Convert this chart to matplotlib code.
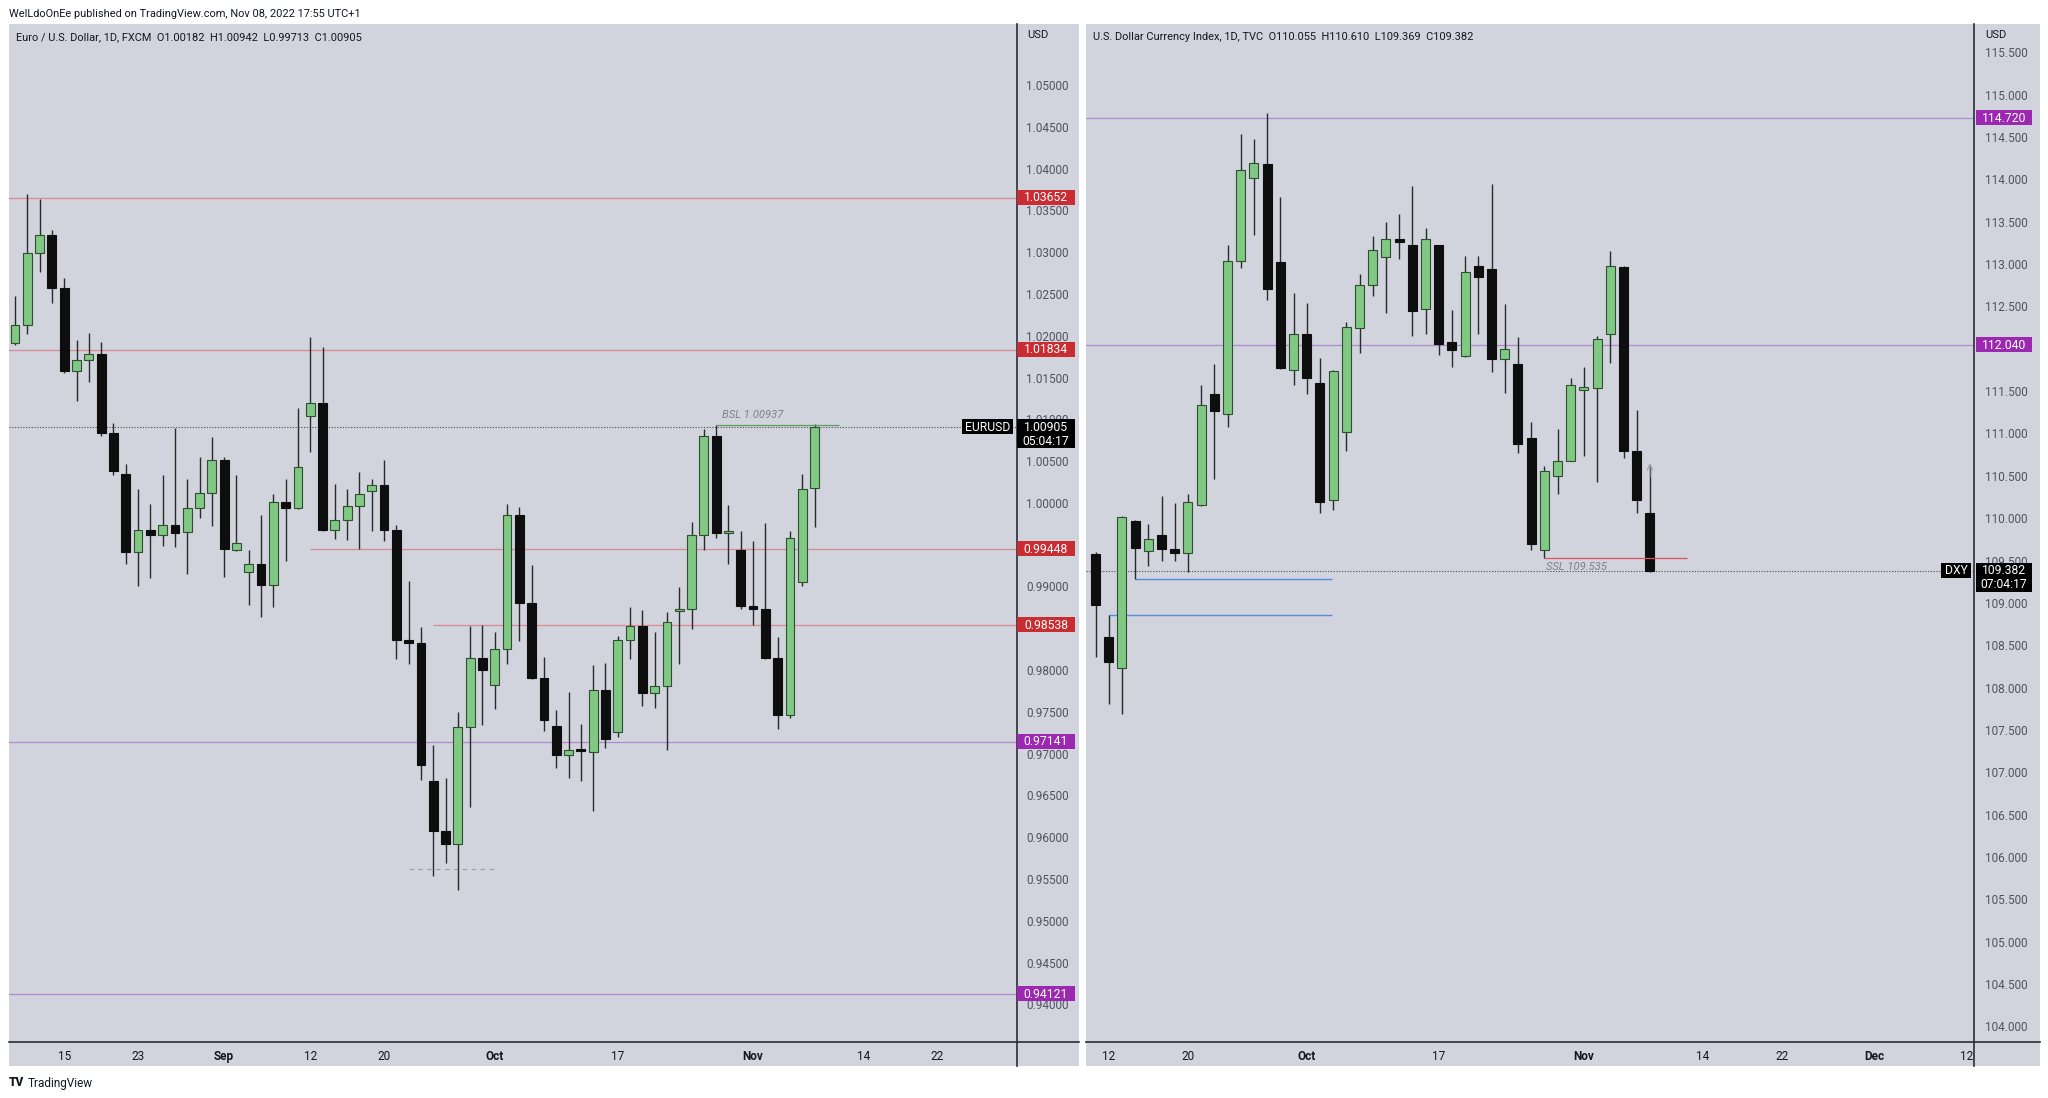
import numpy as np
import matplotlib
matplotlib.use("Agg")
import matplotlib.pyplot as plt
from matplotlib.patches import Rectangle
from matplotlib.lines import Line2D

plt.rcParams['font.family'] = ['Roboto', 'DejaVu Sans']

W, H = 2048, 1098

# ---- EURUSD 1D (FXCM), Aug 9 .. Nov 8 2022, one entry per trading day ----
eur_open = [1.0191, 1.0213, 1.0299, 1.0321, 1.0257, 1.0158, 1.0171, 1.0178, 1.0084, 1.0034,
            0.9941, 0.9968, 0.9962, 0.9973, 0.9965, 0.9994, 1.0012, 1.0051, 0.9944, 0.9917,
            0.9927, 0.9902, 1.0001, 0.9994, 1.0104, 1.0120, 0.9967, 0.9980, 0.9996, 1.0014,
            1.0022, 0.9968, 0.9836, 0.9833, 0.9667, 0.9608, 0.9592, 0.9732, 0.9815, 0.9782,
            0.9825, 0.9986, 0.9880, 0.9790, 0.9733, 0.9698, 0.9705, 0.9702, 0.9776, 0.9726,
            0.9836, 0.9853, 0.9772, 0.9781, 0.9871, 0.9873, 0.9962, 1.0080, 0.9964, 0.9944,
            0.9877, 0.9873, 0.9814, 0.9746, 0.9905, 1.00182]
eur_high = [1.0248, 1.0369, 1.0364, 1.0327, 1.0269, 1.0195, 1.0203, 1.0193, 1.0095, 1.0046,
            1.0017, 0.9999, 1.0033, 1.0090, 1.0029, 1.0055, 1.0079, 1.0055, 1.0033, 0.9944,
            0.9986, 1.0011, 1.0029, 1.0113, 1.0198, 1.0187, 1.0023, 1.0017, 1.0037, 1.0029,
            1.0051, 0.9974, 0.9907, 0.9852, 0.9710, 0.9671, 0.9750, 0.9853, 0.9854, 0.9845,
            0.9999, 0.9995, 0.9926, 0.9816, 0.9752, 0.9774, 0.9735, 0.9806, 0.9808, 0.9841,
            0.9876, 0.9872, 0.9845, 0.9869, 0.9899, 0.9977, 1.0088, 1.00937, 0.9998, 0.9966,
            0.9954, 0.9976, 0.9839, 0.9966, 1.0034, 1.00942]
eur_low = [1.0189, 1.0202, 1.0276, 1.0239, 1.0155, 1.0122, 1.0145, 1.0080, 1.0033, 0.9927,
           0.9901, 0.9910, 0.9949, 0.9947, 0.9915, 0.9982, 0.9972, 0.9911, 0.9943, 0.9878,
           0.9864, 0.9875, 0.9931, 0.9993, 1.0061, 0.9966, 0.9957, 0.9956, 0.9945, 0.9966,
           0.9955, 0.9813, 0.9807, 0.9669, 0.9554, 0.9569, 0.9537, 0.9636, 0.9734, 0.9753,
           0.9807, 0.9835, 0.9789, 0.9727, 0.9683, 0.9671, 0.9667, 0.9632, 0.9707, 0.9720,
           0.9813, 0.9757, 0.9755, 0.9705, 0.9807, 0.9849, 0.9944, 0.9958, 0.9927, 0.9873,
           0.9854, 0.9813, 0.9730, 0.9743, 0.9901, 0.99713]
eur_close = [1.0213, 1.0299, 1.0321, 1.0257, 1.0158, 1.0171, 1.0178, 1.0084, 1.0038, 0.9941,
             0.9968, 0.9962, 0.9973, 0.9964, 0.9994, 1.0012, 1.0051, 0.9945, 0.9952, 0.9927,
             0.9902, 1.0001, 0.9994, 1.0043, 1.0120, 0.9967, 0.9980, 0.9996, 1.0011, 1.0022,
             0.9968, 0.9836, 0.9833, 0.9687, 0.9608, 0.9592, 0.9732, 0.9815, 0.9800, 0.9825,
             0.9986, 0.9880, 0.9790, 0.9740, 0.9698, 0.9704, 0.9703, 0.9776, 0.9718, 0.9836,
             0.9853, 0.9773, 0.9781, 0.9857, 0.9873, 0.9962, 1.0080, 0.9964, 0.9965, 0.9877,
             0.9873, 0.9814, 0.9746, 0.9958, 1.0017, 1.00905]
eur_xticks = [4, 10, 17, 24, 30, 39, 49, 60, 69, 75]
eur_xlabels = ['15', '23', 'Sep', '12', '20', 'Oct', '17', 'Nov', '14', '22']
eur_red_levels = [1.03652, 1.01834, 0.99448, 0.98538]
eur_red_start = [None, None, 24, 34]
eur_purple_levels = [0.97141, 0.94121]
eur_bsl = 1.00937
eur_bsl_span = [57, 67]
eur_low_mark = 0.95621
eur_low_span = [32, 38.9]

# ---- DXY 1D (TVC), Sep 9 .. Nov 8 2022 ----
dxy_open = [109.58, 108.60, 108.23, 109.97, 109.61, 109.80, 109.64, 109.59, 110.16, 111.47,
            111.23, 113.03, 114.02, 114.18, 113.02, 111.75, 112.17, 111.59, 110.22, 111.02,
            112.25, 112.75, 113.08, 113.30, 113.23, 112.47, 113.22, 112.08, 111.91, 112.98,
            112.94, 111.88, 111.82, 110.95, 109.62, 110.50, 110.68, 111.51, 111.54, 112.17,
            112.97, 110.79, 110.055]
dxy_high = [109.60, 108.86, 110.02, 109.98, 109.93, 110.26, 110.18, 110.29, 111.57, 111.82,
            113.23, 114.53, 114.47, 114.78, 113.79, 112.66, 112.54, 111.89, 111.75, 112.32,
            112.88, 113.33, 113.50, 113.59, 113.92, 113.42, 113.23, 112.46, 113.09, 113.09,
            113.94, 112.53, 112.14, 111.14, 110.62, 111.05, 111.66, 111.78, 112.15, 113.15,
            112.98, 111.28, 110.610]
dxy_low = [108.36, 107.81, 107.69, 109.28, 109.43, 109.49, 109.50, 109.36, 110.14, 110.46,
           111.08, 112.95, 113.34, 112.58, 111.76, 111.57, 111.47, 110.06, 110.10, 110.79,
           111.95, 112.62, 112.42, 113.06, 112.15, 112.17, 111.93, 111.78, 111.90, 112.17,
           111.72, 111.48, 110.77, 109.63, 109.535, 110.29, 110.67, 110.73, 110.43, 111.83,
           110.71, 110.06, 109.369]
dxy_close = [108.97, 108.30, 110.01, 109.65, 109.75, 109.64, 109.59, 110.19, 111.34, 111.27,
             113.03, 114.11, 114.19, 112.71, 111.77, 112.17, 111.66, 110.19, 111.74, 112.26,
             112.75, 113.17, 113.29, 113.26, 112.45, 113.30, 112.06, 111.99, 112.90, 112.85,
             111.88, 112.00, 110.88, 109.69, 110.56, 110.68, 111.57, 111.55, 112.11, 112.98,
             110.79, 110.22, 109.382]
dxy_xticks = [1, 7, 16, 26, 37, 46, 52, 59, 66]
dxy_xlabels = ['12', '20', 'Oct', '17', 'Nov', '14', '22', 'Dec', '12']
dxy_purple_levels = [114.720, 112.040]
dxy_blue_levels = [109.28, 108.86]
dxy_blue_start = [3, 1]
dxy_blue_end = 17.9
dxy_ssl = 109.535
dxy_ssl_span = [34, 44.8]

# ---- styling ----
BG = '#d1d4dc'
GREEN = '#80c883'
GREEN_EDGE = '#2e4f30'
BLACK = '#0e0e0e'
WICK = '#2a2a2a'
RED_LINE = '#d98896'
RED_TAG = '#c92d31'
PURPLE_LINE = '#b08ad2'
PURPLE_TAG = '#9c27b0'
TXT = '#131722'
AXTXT = '#50535e'

fig = plt.figure(figsize=(W / 100, H / 100), dpi=100)
fig.patch.set_facecolor('white')


def put(x, y, s, **kw):
    # figure text at image pixel coords (origin top-left)
    return fig.text(x / W, 1 - y / H, s, **kw)


def box(x0, y0, w, h, color, z=6):
    fig.patches.append(Rectangle((x0 / W, 1 - (y0 + h) / H), w / W, h / H,
                                 transform=fig.transFigure, facecolor=color,
                                 edgecolor='none', zorder=z))


def fline(xs, ys, z=5):
    fig.lines.append(Line2D([x / W for x in xs], [1 - y / H for y in ys],
                            transform=fig.transFigure, color='#2a2e39', lw=1.2, zorder=z))


def py(ax, price):
    return H - ax.transData.transform((0, price))[1]


def tag(ax, price, text, color, x0, w, sub=None):
    y = py(ax, price)
    h = 15 if sub is None else 29
    box(x0, y - 8, w, h, color)
    put(x0 + w / 2, y, text, color='white', fontsize=8.7, ha='center', va='center', zorder=7)
    if sub:
        put(x0 + w / 2, y + 14, sub, color='white', fontsize=8.7, ha='center', va='center', zorder=7)


def draw_candles(ax, o, h, l, c, width):
    o, h, l, c = map(np.asarray, (o, h, l, c))
    x = np.arange(len(o))
    lo, hi = ax.get_ylim()
    min_h = (hi - lo) * 2.0 / 1018
    up = c >= o
    bottom = np.minimum(o, c)
    height = np.maximum(np.abs(c - o), min_h)
    ax.vlines(x, l, h, color=WICK, lw=1.0, zorder=2)
    ax.bar(x[up], height[up], bottom=bottom[up], width=width, color=GREEN,
           edgecolor=GREEN_EDGE, linewidth=0.8, zorder=3)
    ax.bar(x[~up], height[~up], bottom=bottom[~up], width=width, color=BLACK,
           edgecolor=BLACK, linewidth=0.8, zorder=3)


def setup_axis(ax, xlim, ylim, yticks, yfmt, pad, xticks, xlabels, hidden):
    ax.set_facecolor('none')
    ax.set_xlim(*xlim)
    ax.set_ylim(*ylim)
    for s in ax.spines.values():
        s.set_visible(False)
    ax.yaxis.tick_right()
    ax.set_yticks(yticks)
    # labels fully covered by a price tag are left blank
    ax.set_yticklabels(['' if any(abs(v - hv) < 1e-9 for hv in hidden) else yfmt % v
                        for v in yticks])
    ax.tick_params(axis='y', length=0, pad=pad, labelsize=8.5, labelcolor=AXTXT)
    ax.set_xticks(xticks)
    ax.set_xticklabels(xlabels)
    ax.tick_params(axis='x', length=0, pad=6, labelsize=8.5, labelcolor=TXT)
    for t in ax.get_xticklabels():
        if not t.get_text().isdigit():
            t.set_fontweight('bold')


# panel backgrounds
fig.patches.append(Rectangle((9 / W, 1 - 1066 / H), 1070 / W, 1042 / H, transform=fig.transFigure,
                             facecolor=BG, edgecolor='none', zorder=-1))
fig.patches.append(Rectangle((1086 / W, 1 - 1066 / H), 954 / W, 1042 / H, transform=fig.transFigure,
                             facecolor=BG, edgecolor='none', zorder=-1))

# ---------------- left: EURUSD ----------------
ax1 = fig.add_axes([9 / W, 1 - 1042 / H, 1008 / W, 1018 / H])
setup_axis(ax1, (-0.49, 81.46), (0.93551, 1.05729), np.round(np.arange(0.940, 1.05001, 0.005), 3),
           '%.5f', 6.5, eur_xticks, eur_xlabels, hidden=[0.985])

for lvl, st in zip(eur_red_levels, eur_red_start):
    if st is None:
        ax1.axhline(lvl, color=RED_LINE, lw=0.9, zorder=1)
    else:
        ax1.hlines(lvl, st, ax1.get_xlim()[1], color=RED_LINE, lw=0.9, zorder=1)
for lvl in eur_purple_levels:
    ax1.axhline(lvl, color=PURPLE_LINE, lw=0.9, zorder=1)
ax1.axhline(eur_close[-1], color='#4a4a4a', lw=0.8, ls=(0, (1, 1.5)), zorder=1)
ax1.hlines(eur_low_mark, *eur_low_span, color='#9a9da6', lw=0.8, ls=(0, (4, 4)), zorder=1)
ax1.hlines(eur_bsl, *eur_bsl_span, color='#5b9f5e', lw=0.9, zorder=4)
ax1.annotate('BSL 1.00937', (np.mean([eur_bsl_span[0], 63]), eur_bsl), xytext=(0, 3),
             textcoords='offset points', ha='center', va='bottom', fontsize=8,
             style='italic', color='#7d808a')

draw_candles(ax1, eur_open, eur_high, eur_low, eur_close, 0.72)

# ---------------- right: DXY ----------------
ax2 = fig.add_axes([1086 / W, 1 - 1042 / H, 888 / W, 1018 / H])
setup_axis(ax2, (-0.72, 66.55), (103.8167, 115.8329), np.arange(104.0, 115.501, 0.5),
           '%.3f', 8, dxy_xticks, dxy_xlabels, hidden=[112.0])

for lvl in dxy_purple_levels:
    ax2.axhline(lvl, color=PURPLE_LINE, lw=0.9, zorder=1)
ax2.axhline(dxy_close[-1], color='#4a4a4a', lw=0.8, ls=(0, (1, 1.5)), zorder=1)
for lvl, st in zip(dxy_blue_levels, dxy_blue_start):
    ax2.hlines(lvl, st, dxy_blue_end, color='#5b8ae0', lw=1.0, zorder=1)
ax2.hlines(dxy_ssl, *dxy_ssl_span, color='#e0505a', lw=0.9, zorder=4)
ax2.annotate('SSL 109.535', (36.45, dxy_ssl), xytext=(0, -3), textcoords='offset points',
             ha='center', va='top', fontsize=8, style='italic', color='#7d808a')
ax2.annotate('', xy=(len(dxy_close) - 1, 110.68), xytext=(len(dxy_close) - 1, 110.45),
             arrowprops=dict(arrowstyle='->', color='#9a9da6', lw=0.8))

draw_candles(ax2, dxy_open, dxy_high, dxy_low, dxy_close, 0.68)

# ---------------- frame lines ----------------
fline([1017, 1017], [24, 1066])
fline([9, 1079], [1042, 1042])
fline([1974, 1974], [24, 1066])
fline([1086, 2040], [1042, 1042])

# ---------------- price tags ----------------
for lvl in eur_red_levels:
    tag(ax1, lvl, '%.5f' % lvl, RED_TAG, 1017, 58)
for lvl in eur_purple_levels:
    tag(ax1, lvl, '%.5f' % lvl, PURPLE_TAG, 1017, 58)
tag(ax1, eur_close[-1], '%.5f' % eur_close[-1], '#000000', 1017, 58, sub='05:04:17')
tag(ax1, eur_close[-1], 'EURUSD', '#000000', 962, 51)

for lvl in dxy_purple_levels:
    tag(ax2, lvl, '%.3f' % lvl, PURPLE_TAG, 1976, 56)
tag(ax2, dxy_close[-1], '%.3f' % dxy_close[-1], '#000000', 1976, 56, sub='07:04:17')
tag(ax2, dxy_close[-1], 'DXY', '#000000', 1941, 30)

# ---------------- texts ----------------
put(9, 14, 'WelLdoOnEe published on TradingView.com, Nov 08, 2022 17:55 UTC+1',
    fontsize=7.9, color=TXT, va='center')
put(16, 37, 'Euro / U.S. Dollar, 1D, FXCM  O%.5f  H%.5f  L%.5f  C%.5f'
    % (eur_open[-1], eur_high[-1], eur_low[-1], eur_close[-1]), fontsize=7.9, color=TXT, va='center')
put(1093, 37, 'U.S. Dollar Currency Index, 1D, TVC  O%.3f  H%.3f  L%.3f  C%.3f'
    % (dxy_open[-1], dxy_high[-1], dxy_low[-1], dxy_close[-1]), fontsize=7.9, color=TXT, va='center')
put(1027, 35, 'USD', fontsize=8, color=TXT, va='center')
put(1985, 35, 'USD', fontsize=8, color=TXT, va='center')
put(9, 1083, 'TV', fontsize=8.5, fontweight='heavy', color=TXT, va='center')
put(28, 1083, 'TradingView', fontsize=8.5, color=TXT, va='center')

fig.savefig('out.png', dpi=100, facecolor='white')
